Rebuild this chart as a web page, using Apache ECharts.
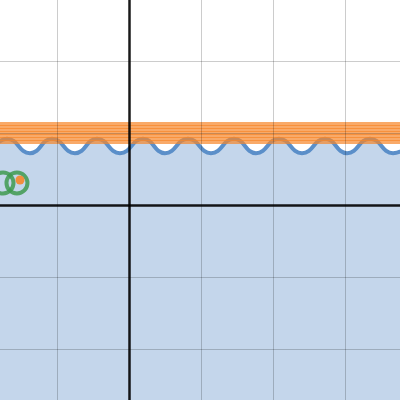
<!DOCTYPE html><html><head><meta charset="utf-8"><script src="https://cdn.jsdelivr.net/npm/echarts@6/dist/echarts.min.js"></script></head><body style="margin:0"><div id="c" style="width:400px;height:400px"></div><script>
const waveX=[-1.9,-1.694,-1.375,-1.069,-0.75,-0.444,-0.125,0.194,0.5,0.819,1.139,1.458,1.764,2.083,2.403,2.722,3.028,3.347,3.667,3.986];
const waveY=[0.79,0.92,0.72,0.92,0.72,0.92,0.72,0.92,0.72,0.92,0.72,0.92,0.72,0.92,0.72,0.92,0.72,0.92,0.72,0.92];
const bandY=[1.125,1.083,1.042,1.0,0.958,0.917,0.875];
const gridXs=[-1,1,2,3];const gridYs=[2,1,-1,-2];
const rings=[[-1.75,0.306],[-1.556,0.306]];const dot=[[-1.514,0.347]];
const XMIN=-1.7917,XMAX=3.764,YMIN=-2.708,YMAX=2.847;
const series=[];
series.push({type:'line',data:waveX.map((x,i)=>[x,waveY[i]]),smooth:0.5,symbol:'none',lineStyle:{color:'#5b8fc9',width:4},areaStyle:{color:'rgba(120,160,210,0.62)',origin:'start'},z:3});
bandY.forEach(y=>series.push({type:'line',data:[[XMIN-1,y],[XMAX+1,y]],symbol:'none',lineStyle:{color:'#f7862a',width:4,opacity:0.7},z:4}));
series.push({type:'line',data:[],markLine:{silent:true,symbol:'none',label:{show:false},lineStyle:{color:'rgba(0,0,0,0.2)',width:1,type:'solid'},data:gridXs.map(x=>({xAxis:x})).concat(gridYs.map(y=>({yAxis:y})))},z:2});
series.push({type:'line',data:[],markLine:{silent:true,symbol:'none',label:{show:false},lineStyle:{color:'#000',width:2.5,type:'solid',opacity:0.9},data:[{xAxis:0},{yAxis:0}]},z:5});
series.push({type:'scatter',data:rings,symbolSize:21,itemStyle:{color:'rgba(0,0,0,0)',borderColor:'#3f9a50',borderWidth:4,opacity:0.85},z:6});
series.push({type:'scatter',data:dot,symbolSize:9,itemStyle:{color:'#f7862a',opacity:0.9},z:7});
echarts.init(document.getElementById('c')).setOption({animation:false,grid:{left:0,right:0,top:0,bottom:0},
xAxis:{type:'value',min:XMIN,max:XMAX,show:false},yAxis:{type:'value',min:YMIN,max:YMAX,show:false},series});
</script></body></html>
